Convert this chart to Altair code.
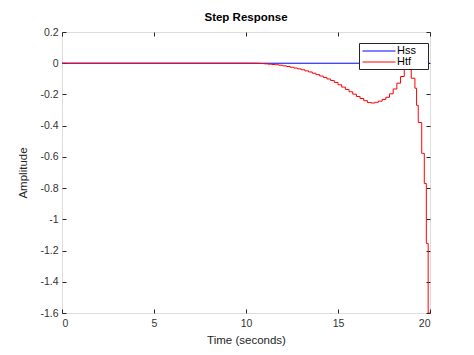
import altair as alt
import pandas as pd

# ---- data ----
hss_t = [0, 20]
hss_v = [0, 0]

htf_t = [0, 10.0, 10.2, 10.4, 10.6, 10.8, 11.0, 11.2, 11.4, 11.6, 11.8,
         12.0, 12.2, 12.4, 12.6, 12.8, 13.0, 13.2, 13.4, 13.6, 13.8,
         14.0, 14.2, 14.4, 14.6, 14.8, 15.0, 15.2, 15.4, 15.6, 15.8,
         16.0, 16.2, 16.4, 16.6, 16.8, 17.0, 17.2, 17.4, 17.6, 17.8,
         18.0, 18.2, 18.4, 18.6, 18.7, 18.98, 19.18, 19.27, 19.36, 19.55,
         19.69, 19.8, 19.9, 20.0]
htf_v = [0, 0, 0, 0, -0.001, -0.002, -0.004, -0.006, -0.008, -0.010, -0.013,
         -0.017, -0.021, -0.026, -0.031, -0.036, -0.042, -0.049, -0.056, -0.064, -0.073,
         -0.082, -0.091, -0.101, -0.111, -0.123, -0.138, -0.153, -0.168, -0.183, -0.198,
         -0.213, -0.226, -0.240, -0.252, -0.255, -0.250, -0.243, -0.232, -0.218, -0.196,
         -0.165, -0.128, -0.085, -0.040, 0.0, -0.096, -0.16, -0.27, -0.38, -0.577,
         -0.77, -1.154, -1.6, -1.6]

series_names = ["Hss", "Htf"]
series_colors = ["#0000FF", "#FF0000"]
x_ticks = [0, 5, 10, 15, 20]
y_ticks = [-1.6, -1.4, -1.2, -1, -0.8, -0.6, -0.4, -0.2, 0, 0.2]

hss = pd.DataFrame({"t": hss_t, "v": hss_v, "series": "Hss"})
htf = pd.DataFrame({"t": htf_t, "v": htf_v, "series": "Htf"})

W, H = 368, 281
FONT = "Liberation Sans"
AX = "#262626"

xs = alt.Scale(domain=[0, 20], nice=False, zero=False)
ys = alt.Scale(domain=[-1.6, 0.2], nice=False, zero=False)

color = alt.Color(
    "series:N",
    scale=alt.Scale(domain=series_names, range=series_colors),
    legend=alt.Legend(
        orient="none", legendX=297, legendY=11, title=None,
        symbolType="M-3,0H3", symbolSize=121, symbolStrokeWidth=1,
        symbolOffset=12, labelOffset=12, padding=2, rowPadding=0,
        labelFontSize=11, labelFont=FONT, labelColor="#000000",
        labelExpr="datum.label + '\u00a0\u00a0\u00a0\u200b'",
        strokeColor=AX, fillColor="#FFFFFF", cornerRadius=0,
    ),
)

label_style = dict(labelFont=FONT, labelFontSize=10.5, labelColor="#333333",
                   titleFont=FONT, titleFontSize=11.5, titleColor="#262626",
                   titleFontWeight="normal", grid=False)

lab_x = alt.Axis(orient="bottom", values=x_ticks, ticks=False, domain=False,
                 labelPadding=5, title="Time (seconds)", titlePadding=6,
                 **label_style)
lab_y = alt.Axis(orient="left", values=y_ticks, ticks=False, domain=False,
                 labelPadding=4, title="Amplitude", titlePadding=11,
                 labelExpr="'' + datum.value", **label_style)

tick_common = dict(labels=False, domain=False, ticks=True, tickSize=4, title="",
                   tickColor=AX, grid=False)

# bottom & left inward ticks
in_x1 = alt.Axis(orient="top", offset=-H, values=x_ticks, **tick_common)
in_y1 = alt.Axis(orient="right", offset=-W, values=y_ticks, **tick_common)
# top & right inward ticks
in_x2 = alt.Axis(orient="bottom", offset=-H, values=x_ticks, **tick_common)
in_y2 = alt.Axis(orient="left", offset=-W, values=y_ticks, **tick_common)

l_hss = alt.Chart(hss).mark_line(strokeWidth=1).encode(
    x=alt.X("t:Q", scale=xs, axis=lab_x),
    y=alt.Y("v:Q", scale=ys, axis=lab_y),
    color=color,
)
l_htf = alt.Chart(htf).mark_line(strokeWidth=1, interpolate="step-after").encode(
    x=alt.X("t:Q", scale=xs, axis=in_x1),
    y=alt.Y("v:Q", scale=ys, axis=in_y1),
    color=color,
)
l_ghost = alt.Chart(hss).mark_line(strokeOpacity=0).encode(
    x=alt.X("t:Q", scale=xs, axis=in_x2),
    y=alt.Y("v:Q", scale=ys, axis=in_y2),
)

chart = alt.layer(l_hss, l_htf, l_ghost).resolve_axis(
    x="independent", y="independent"
).properties(
    width=W, height=H,
    title=alt.TitleParams("Step Response", font=FONT, fontSize=11.5,
                          fontWeight="bold", color="#000000", offset=4),
    autosize=alt.AutoSizeParams(type="none"),
    padding={"left": 62, "top": 32, "right": 44, "bottom": 42},
).configure_view(
    stroke=AX, strokeWidth=1
).configure_axis(
    grid=False, titleFontWeight="normal",
).configure(background="#FFFFFF")

chart.save("out.html", embed_options={"renderer": "svg", "actions": False})
